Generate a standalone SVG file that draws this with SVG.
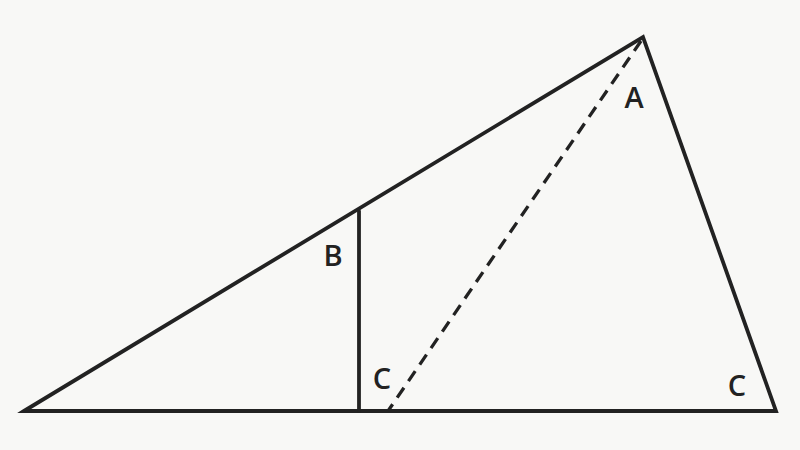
<svg xmlns="http://www.w3.org/2000/svg" width="800" height="450" viewBox="0 0 800 450">
<style>
.ln{stroke:#222;stroke-width:3.8;fill:none;stroke-linejoin:miter;stroke-linecap:round}
.ds{stroke:#222;stroke-width:3.3;fill:none;stroke-dasharray:12 8}
.lb{font-family:"Open Sans","DejaVu Sans",sans-serif;font-size:29px;font-weight:600;fill:#222;text-anchor:middle}
</style>
<rect width="800" height="450" fill="#f8f8f6"/>
<g id="connectors">
<polygon class="ln" points="24,411 643,37 776,411"/>
<line class="ln" x1="359" y1="411" x2="359" y2="211"/>
<line class="ds" x1="641" y1="41" x2="388" y2="411"/>
</g>
<g id="label-A"><text class="lb" x="634" y="108">A</text></g>
<g id="label-B"><text class="lb" x="333" y="266">B</text></g>
<g id="label-C1"><text class="lb" x="382" y="389">C</text></g>
<g id="label-C2"><text class="lb" x="737" y="396">C</text></g>
</svg>
